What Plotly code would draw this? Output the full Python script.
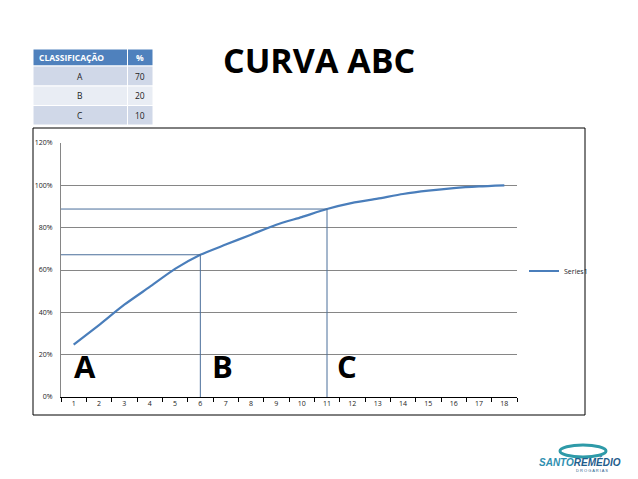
import plotly.graph_objects as go

# Curva ABC - cumulative share per item
items = [str(i) for i in range(1, 19)]
cumulative = [0.247, 0.34, 0.436, 0.52, 0.605, 0.672, 0.72, 0.767, 0.814,
              0.85, 0.888, 0.917, 0.937, 0.959, 0.975, 0.987, 0.995, 1.0]
cut_items = [6, 11]          # last item of class A and of class B
class_labels = ["A", "B", "C"]
class_pct = [70, 20, 10]
y_ticks = [0, 0.2, 0.4, 0.6, 0.8, 1.0, 1.2]

# page body adds an 8px margin, so the figure is drawn 8px smaller / shifted
OFF = 8
W, H = 638 - OFF, 479 - OFF
L, R, T, B = 61 - OFF, 517 - OFF, 143 - OFF, 397 - OFF


def px(x):
    return (x - OFF - L) / (R - L)


def py(y):
    return (B - (y - OFF)) / (B - T)


fig = go.Figure()
fig.add_trace(go.Scatter(
    x=items, y=cumulative, mode="lines", name="Series1",
    line=dict(color="#4A7EBB", width=2.2, shape="spline", smoothing=0.6),
))

shapes = []
annotations = []


def note(x, y, text, size, color="black", bold=False, xanchor="center", family="Open Sans"):
    annotations.append(dict(x=x, y=y, xref="paper", yref="paper", text=text,
                            showarrow=False, xanchor=xanchor, yanchor="middle",
                            font=dict(family=family, size=size, color=color,
                                      weight="bold" if bold else "normal")))


# outer chart frame
shapes.append(dict(type="rect", xref="paper", yref="paper",
                   x0=px(33), x1=px(585), y0=py(415), y1=py(128),
                   line=dict(color="black", width=1), layer="below"))

# ABC guide lines
for cut in cut_items:
    yv = cumulative[cut - 1]
    shapes.append(dict(type="line", xref="x", yref="y", x0=-0.5, x1=cut - 1,
                       y0=yv, y1=yv, line=dict(color="#4A6E9A", width=1)))
    shapes.append(dict(type="line", xref="x", yref="y", x0=cut - 1, x1=cut - 1,
                       y0=0, y1=yv, line=dict(color="#4A6E9A", width=1)))

# class letters
letter_x = [0, cut_items[0] - 1 + 0.45, cut_items[1] - 1 + 0.35]
for lab, lx in zip(class_labels, letter_x):
    annotations.append(dict(x=lx - 0.05, y=0.145, xref="x", yref="y", text=lab,
                            showarrow=False, xanchor="left", yanchor="middle",
                            font=dict(family="Open Sans", size=31, color="black",
                                      weight="bold")))

# title
note(px(319), py(60), "CURVA ABC", 34, bold=True)

# small table top-left
col_x = [33, 127.5, 153]
row_y = [49, 66, 86, 105.5, 125]
row_fill = ["#4F81BD", "#D0D8E8", "#E9EDF4", "#D0D8E8"]
table_rows = [["CLASSIFICAÇÃO", "%"]] + [[c, str(p)] for c, p in zip(class_labels, class_pct)]
for r, row in enumerate(table_rows):
    for c, txt in enumerate(row):
        x0, x1 = col_x[c], col_x[c + 1]
        y0, y1 = row_y[r], row_y[r + 1]
        shapes.append(dict(type="rect", xref="paper", yref="paper",
                           x0=px(x0), x1=px(x1), y0=py(y1), y1=py(y0),
                           fillcolor=row_fill[r], line=dict(color="white", width=1)))
        if r == 0 and c == 0:
            note(px(x0 + 4), py((y0 + y1) / 2), txt, 8.5, "white", True, "left")
        else:
            note(px((x0 + x1) / 2), py((y0 + y1) / 2), txt, 8.5,
                 "white" if r == 0 else "#222222", r == 0)

# logo
shapes.append(dict(type="circle", xref="paper", yref="paper",
                   x0=px(560), x1=px(606), y0=py(457), y1=py(445),
                   line=dict(color="#2E9AA8", width=3)))
note(px(580), py(462),
     "<i><b><span style='color:#2E8FB0'>SANTO</span>"
     "<span style='color:#1F5D8C'>REMÉDIO</span></b></i>",
     10, family="Liberation Sans Narrow, Liberation Sans")
note(px(592), py(470), "D R O G A R I A S", 4, "#1F5D8C", family="Liberation Sans")

fig.update_layout(
    width=W, height=H,
    margin=dict(l=L, r=W - R, t=T, b=H - B),
    paper_bgcolor="white", plot_bgcolor="white",
    font=dict(family="Open Sans", size=8, color="#222222"),
    showlegend=True,
    legend=dict(x=px(524), y=py(271), xanchor="left", yanchor="middle",
                font=dict(size=7), itemwidth=30, bgcolor="rgba(0,0,0,0)"),
    shapes=shapes, annotations=annotations,
    xaxis=dict(type="category", range=[-0.5, 17.5], tickson="boundaries",
               ticks="outside", ticklen=4, tickcolor="black",
               showline=True, linecolor="black", linewidth=1,
               showgrid=False, tickfont=dict(size=7)),
    yaxis=dict(range=[0, 1.2], tickvals=y_ticks, tickformat=".0%",
               showgrid=True, gridcolor="#868686", gridwidth=1,
               showline=True, linecolor="#868686", zeroline=False,
               ticks="", ticklabelstandoff=6, tickfont=dict(size=7)),
)

fig.write_html("out.html")
